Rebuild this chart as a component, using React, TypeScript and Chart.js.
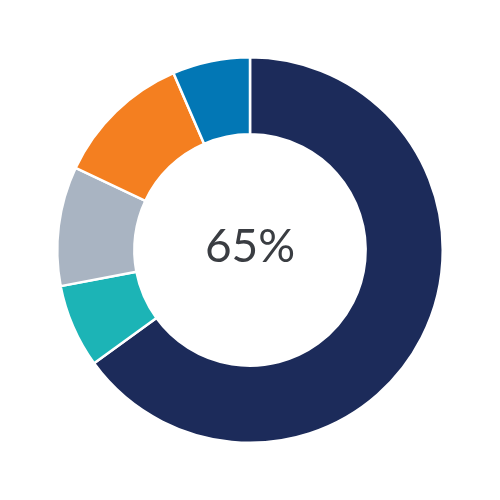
import React, { useEffect, useRef } from "react";
import { Chart, registerables } from "chart.js";

Chart.register(...registerables);

const categories = ["A", "B", "C", "D", "E"];
const values = [65, 7, 10, 11.5, 6.5];
const colors = ["#1c2b5a", "#1cb4b6", "#a9b4c2", "#f47f20", "#0277b5"];
const centerLabel = "65%";

export default function App() {
  const ref = useRef<HTMLCanvasElement | null>(null);
  useEffect(() => {
    if (!ref.current) return;
    const centerText = {
      id: "centerText",
      afterDraw(chart: any) {
        const { ctx, chartArea } = chart;
        const cx = (chartArea.left + chartArea.right) / 2;
        const cy = (chartArea.top + chartArea.bottom) / 2;
        ctx.save();
        ctx.font = "400 46px Lato";
        ctx.fillStyle = "#3a3d42";
        ctx.textAlign = "center";
        ctx.textBaseline = "middle";
        ctx.fillText(centerLabel, cx, cy - 3);
        ctx.restore();
      },
    };
    const chart = new Chart(ref.current, {
      type: "doughnut",
      data: {
        labels: categories,
        datasets: [
          {
            data: values,
            backgroundColor: colors,
            borderColor: "#ffffff",
            borderWidth: 2.5,
          },
        ],
      },
      options: {
        animation: false,
        responsive: false,
        cutout: "60%",
        layout: { padding: 56 },
        plugins: {
          legend: { display: false },
          tooltip: { enabled: false },
        },
      },
      plugins: [centerText],
    });
    return () => chart.destroy();
  }, []);
  return (
    <div style={{ position: "absolute", left: 0, top: 0, width: 500, height: 500, background: "#fff" }}>
      <canvas ref={ref} width={500} height={500} style={{ width: 500, height: 500 }} />
    </div>
  );
}
